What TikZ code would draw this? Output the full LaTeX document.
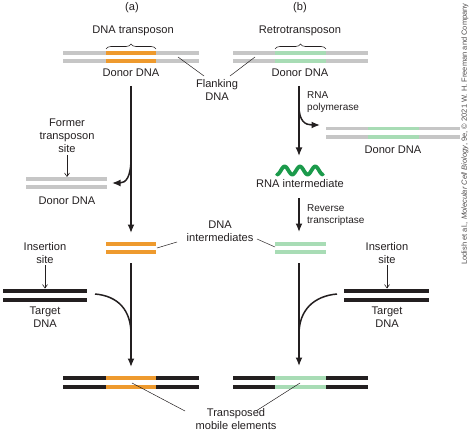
\documentclass[tikz,border=0pt]{standalone}
\usepackage{fontspec}
\setmainfont{Liberation Sans}
\usetikzlibrary{arrows.meta,decorations.pathreplacing}
\definecolor{dgray}{HTML}{C6C6C6}
\definecolor{dorange}{HTML}{EE9A2E}
\definecolor{lgreen}{HTML}{A8DCB5}
\definecolor{wgreen}{HTML}{1B9A4B}
\definecolor{ink}{HTML}{231F20}
\tikzset{
  lbl/.style={font=\fontsize{11.1}{13.2}\selectfont, text=ink, align=center, inner sep=0},
  small/.style={font=\fontsize{10}{11.2}\selectfont, text=ink, align=left, inner sep=0, anchor=west},
  strandG/.style={line width=3.3pt, dgray},
  strandO/.style={line width=3.3pt, dorange},
  strandL/.style={line width=3.3pt, lgreen},
  strandK/.style={line width=3.3pt, ink},
  flow/.style={line width=1.5pt, ink, -{Latex[length=8.5pt,width=7pt]}},
  flowline/.style={line width=1.5pt, ink},
  thinarrow/.style={line width=0.6pt, ink, -{Straight Barb[length=3.5pt,width=5pt]}},
  leader/.style={line width=0.5pt, ink},
  bracestyle/.style={line width=0.6pt, ink, decorate, decoration={brace, amplitude=5pt}}
}
\begin{document}
\begin{tikzpicture}[x=1pt,y=-1pt]
\useasboundingbox (0,0) rectangle (474,433);

% ---------- labels ----------
\node[lbl] (pa) at (132,8) {(a)};
\node[lbl] (tA) at (133,31) {DNA transposon};
\node[lbl] (dlA) at (131,73) {Donor DNA};
\node[lbl] (flank) at (217,90) {Flanking\\DNA};
\node[lbl] (former) at (67,136) {Former\\transposon\\site};
\node[lbl] (dlA2) at (67,201) {Donor DNA};
\node[lbl] (inter) at (220,231) {DNA\\intermediates};
\node[lbl] (insA) at (45,253) {Insertion\\site};
\node[lbl] (tgA) at (45,317) {Target\\DNA};
\node[lbl] (trans) at (236,419) {Transposed\\mobile elements};

\node[lbl] (pb) at (300,8) {(b)};
\node[lbl] (tB) at (300,31) {Retrotransposon};
\node[lbl] (dlB) at (300,73) {Donor DNA};
\node[small] (rnapol) at (307,102) {RNA\\polymerase};
\node[lbl] (dlB2) at (393,150) {Donor DNA};
\node[lbl] (rnaint) at (300,184) {RNA intermediate};
\node[small] (rt) at (307,215) {Reverse\\transcriptase};
\node[lbl] (insB) at (387,253) {Insertion\\site};
\node[lbl] (tgB) at (387,317) {Target\\DNA};

\node[rotate=90, font=\fontsize{7.5}{8}\selectfont, text=ink!80, inner sep=0] (copy) at (465,134)
  {Lodish et al., \textit{Molecular Cell Biology}, 9e, © 2021 W. H. Freeman and Company};

% ---------- DNA strands (a) ----------
\draw[strandG] (63,53) -- (199,53);
\draw[strandG] (63,61) -- (199,61);
\draw[strandO] (106,53) -- (156,53);
\draw[strandO] (106,61) -- (156,61);
\draw[bracestyle] (106,49) -- (156,49);

\draw[strandG] (26,179) -- (107,179);
\draw[strandG] (26,187) -- (107,187);

\draw[strandO] (106,244) -- (156,244);
\draw[strandO] (106,252) -- (156,252);

\draw[strandK] (3,291) -- (87,291);
\draw[strandK] (3,300) -- (87,300);

\draw[strandK] (63,378) -- (199,378);
\draw[strandK] (63,387) -- (199,387);
\draw[strandO] (106,378) -- (156,378);
\draw[strandO] (106,387) -- (156,387);

% ---------- DNA strands (b) ----------
\draw[strandG] (233,53) -- (368,53);
\draw[strandG] (233,61) -- (368,61);
\draw[strandL] (275,53) -- (326,53);
\draw[strandL] (275,61) -- (326,61);
\draw[bracestyle] (275,49) -- (326,49);

\draw[strandG] (326,128.5) -- (460,128.5);
\draw[strandG] (326,137) -- (460,137);
\draw[strandL] (368,128.5) -- (419,128.5);
\draw[strandL] (368,137) -- (419,137);

\draw[line width=3.8pt, wgreen, line cap=round]
  plot[domain=0:3, samples=80, smooth, variable=\t] ({277+\t*15.3}, {170.5+4*cos(360*\t)});

\draw[strandL] (275,244) -- (326,244);
\draw[strandL] (275,252) -- (326,252);

\draw[strandK] (344,291) -- (429,291);
\draw[strandK] (344,300) -- (429,300);

\draw[strandK] (233,378) -- (368,378);
\draw[strandK] (233,387) -- (368,387);
\draw[strandL] (275,378) -- (326,378);
\draw[strandL] (275,387) -- (326,387);

% ---------- connector points ----------
\coordinate (a0) at (131,86);
\coordinate (a1) at (131,233);
\coordinate (ab) at (131,158);
\coordinate (abt) at (112,183);
\coordinate (a2) at (131,263);
\coordinate (a3) at (131,367);
\coordinate (ac) at (95,294);
\coordinate (acj) at (131,334);

\coordinate (b0) at (299,86);
\coordinate (b1) at (299,156);
\coordinate (bb) at (299,106);
\coordinate (bbt) at (320,125);
\coordinate (b2) at (299,198);
\coordinate (b3) at (299,232);
\coordinate (b4) at (299,263);
\coordinate (b5) at (299,366);
\coordinate (bc) at (337,294);
\coordinate (bcj) at (299,334);

% ---------- flow arrows ----------
\draw[flow] (a0) -- (a1);
\draw[flow] (ab) .. controls (131,177) and (126,183) .. (abt);
\draw[flow] (a2) -- (a3);
\draw[flowline] (ac) .. controls (118,296) and (131,310) .. (acj);

\draw[flow] (b0) -- (b1);
\draw[flow] (bb) .. controls (299,121) and (305,125) .. (bbt);
\draw[flow] (b2) -- (b3);
\draw[flow] (b4) -- (b5);
\draw[flowline] (bc) .. controls (314,296) and (299,310) .. (bcj);

% ---------- thin arrows ----------
\coordinate (fs0) at (67,155);
\coordinate (fs1) at (67,177);
\draw[thinarrow] (fs0) -- (fs1);
\coordinate (ia0) at (45,265);
\coordinate (ia1) at (45,288.5);
\draw[thinarrow] (ia0) -- (ia1);
\coordinate (ib0) at (387,265);
\coordinate (ib1) at (387,288.5);
\draw[thinarrow] (ib0) -- (ib1);

% ---------- leader lines ----------
\coordinate (fl1) at (178,57);
\coordinate (fl2) at (204,76);
\coordinate (fr1) at (230,76);
\coordinate (fr2) at (255,57);
\draw[leader] (fl1) -- (fl2);
\draw[leader] (fr1) -- (fr2);

\coordinate (il1) at (157,248);
\coordinate (il2) at (177,242);
\coordinate (ir1) at (257,239);
\coordinate (ir2) at (275,247);
\draw[leader] (il1) -- (il2);
\draw[leader] (ir1) -- (ir2);

\coordinate (tl1) at (132,383);
\coordinate (tl2) at (185,411);
\coordinate (tr1) at (256,411);
\coordinate (tr2) at (300,383);
\draw[leader] (tl1) -- (tl2);
\draw[leader] (tr1) -- (tr2);
\end{tikzpicture}
\end{document}
